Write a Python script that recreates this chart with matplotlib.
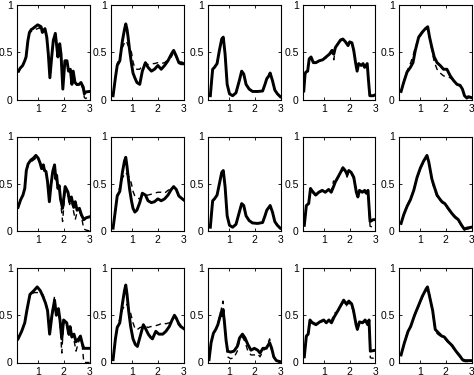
import matplotlib
matplotlib.use("Agg")
import matplotlib.pyplot as plt

plt.rcParams["font.family"] = ["Liberation Sans", "DejaVu Sans"]
plt.rcParams["font.size"] = 7.5

# ---- column 1 ----
x11 = [0.26, 0.32, 0.42, 0.5, 0.55, 0.62, 0.68, 0.75, 0.81, 0.9, 1.0, 1.07, 1.13, 1.18, 1.22, 1.28, 1.35, 1.41,
       1.47, 1.54, 1.6, 1.68, 1.74, 1.78, 1.85, 1.9, 1.97, 2.05, 2.13, 2.19, 2.26, 2.32, 2.37, 2.44, 2.51, 2.6,
       2.67, 2.76, 2.8, 2.86, 3.0]
s11 = [0.30, 0.33, 0.36, 0.41, 0.45, 0.62, 0.71, 0.74, 0.75, 0.77, 0.79, 0.78, 0.77, 0.71, 0.73, 0.75, 0.66, 0.48,
       0.23, 0.45, 0.62, 0.70, 0.55, 0.45, 0.59, 0.48, 0.11, 0.41, 0.41, 0.30, 0.32, 0.16, 0.30, 0.18, 0.16, 0.16,
       0.18, 0.13, 0.06, 0.08, 0.085]
d11 = [0.29, 0.33, 0.36, 0.41, 0.46, 0.63, 0.70, 0.72, 0.73, 0.74, 0.75, 0.76, 0.72, 0.73, 0.74, 0.72, 0.64, 0.50,
       0.27, 0.47, 0.64, 0.67, 0.56, 0.47, 0.56, 0.46, 0.13, 0.39, 0.40, 0.31, 0.30, 0.17, 0.28, 0.19, 0.15, 0.15,
       0.16, 0.10, 0.02, 0.01, 0.05]

x21 = [0.24, 0.34, 0.43, 0.5, 0.56, 0.63, 0.73, 0.83, 0.93, 1.02, 1.09, 1.15, 1.22, 1.26, 1.32, 1.38, 1.45, 1.51,
       1.58, 1.65, 1.7, 1.73, 1.78, 1.83, 1.88, 1.96, 2.06, 2.17, 2.23, 2.3, 2.39, 2.45, 2.52, 2.61, 2.69, 2.78,
       2.87, 3.0]
s21 = [0.25, 0.33, 0.38, 0.45, 0.64, 0.71, 0.75, 0.77, 0.80, 0.77, 0.72, 0.66, 0.70, 0.64, 0.63, 0.52, 0.31, 0.48,
       0.63, 0.70, 0.55, 0.59, 0.45, 0.48, 0.34, 0.24, 0.47, 0.41, 0.31, 0.36, 0.25, 0.31, 0.22, 0.24, 0.17, 0.12,
       0.14, 0.15]
d21 = [0.25, 0.33, 0.38, 0.46, 0.63, 0.70, 0.73, 0.75, 0.77, 0.76, 0.73, 0.68, 0.68, 0.66, 0.62, 0.53, 0.33, 0.50,
       0.62, 0.66, 0.56, 0.57, 0.46, 0.45, 0.33, 0.10, 0.44, 0.40, 0.28, 0.33, 0.20, 0.12, 0.20, 0.21, 0.15, 0.02,
       0.01, 0.0]

x31 = [0.24, 0.38, 0.5, 0.58, 0.7, 0.85, 0.98, 1.1, 1.2, 1.3, 1.38, 1.46, 1.55, 1.65, 1.72, 1.8, 1.86, 1.93, 2.0,
       2.12, 2.2, 2.25, 2.32, 2.4, 2.48, 2.58, 2.65, 2.72, 2.78, 3.0]
s31 = [0.25, 0.33, 0.42, 0.55, 0.72, 0.76, 0.80, 0.76, 0.70, 0.63, 0.55, 0.30, 0.50, 0.66, 0.50, 0.57, 0.45, 0.25,
       0.45, 0.42, 0.30, 0.38, 0.27, 0.30, 0.22, 0.25, 0.28, 0.20, 0.15, 0.15]
d31 = [0.25, 0.33, 0.43, 0.56, 0.71, 0.74, 0.74, 0.73, 0.72, 0.64, 0.56, 0.33, 0.52, 0.70, 0.52, 0.55, 0.42, 0.10,
       0.43, 0.40, 0.28, 0.35, 0.25, 0.24, 0.12, 0.22, 0.25, 0.18, 0.0, 0.0]

# ---- column 2 ----
x12 = [0.28, 0.37, 0.44, 0.54, 0.64, 0.72, 0.77, 0.82, 0.86, 0.92, 0.99, 1.05, 1.12, 1.2, 1.31, 1.41, 1.53, 1.63,
       1.76, 1.88, 2.01, 2.14, 2.27, 2.4, 2.53, 2.62, 2.72, 2.82, 2.91, 3.0]
s12 = [0.04, 0.23, 0.36, 0.41, 0.62, 0.74, 0.80, 0.74, 0.66, 0.52, 0.38, 0.28, 0.23, 0.18, 0.16, 0.30, 0.39, 0.34,
       0.30, 0.32, 0.36, 0.32, 0.36, 0.41, 0.48, 0.52, 0.46, 0.39, 0.39, 0.38]
d12 = [0.04, 0.22, 0.38, 0.45, 0.55, 0.60, 0.62, 0.60, 0.57, 0.55, 0.50, 0.40, 0.33, 0.32, 0.32, 0.36, 0.38, 0.37,
       0.38, 0.38, 0.39, 0.38, 0.39, 0.42, 0.45, 0.50, 0.45, 0.38, 0.37, 0.37]

x22 = x12
s22 = [0.03, 0.22, 0.37, 0.42, 0.62, 0.74, 0.78, 0.68, 0.58, 0.44, 0.32, 0.24, 0.20, 0.22, 0.30, 0.40, 0.38, 0.32,
       0.30, 0.31, 0.34, 0.32, 0.34, 0.38, 0.44, 0.47, 0.44, 0.37, 0.35, 0.33]
d22 = [0.03, 0.21, 0.38, 0.46, 0.56, 0.60, 0.62, 0.60, 0.59, 0.56, 0.50, 0.42, 0.37, 0.35, 0.34, 0.37, 0.38, 0.38,
       0.39, 0.40, 0.41, 0.41, 0.40, 0.43, 0.45, 0.47, 0.44, 0.37, 0.35, 0.34]

x32 = [0.28, 0.37, 0.44, 0.54, 0.64, 0.72, 0.77, 0.82, 0.88, 0.96, 1.05, 1.14, 1.22, 1.32, 1.45, 1.55, 1.64, 1.72,
       1.8, 1.93, 2.05, 2.2, 2.32, 2.45, 2.56, 2.65, 2.72, 2.8, 2.9, 3.0]
s32 = [0.03, 0.25, 0.37, 0.42, 0.62, 0.76, 0.82, 0.72, 0.55, 0.38, 0.25, 0.19, 0.17, 0.27, 0.40, 0.35, 0.30, 0.27,
       0.25, 0.33, 0.30, 0.30, 0.33, 0.38, 0.45, 0.50, 0.47, 0.42, 0.38, 0.36]
d32 = [0.03, 0.24, 0.38, 0.46, 0.56, 0.60, 0.62, 0.61, 0.58, 0.52, 0.42, 0.35, 0.35, 0.37, 0.38, 0.38, 0.37, 0.38,
       0.38, 0.39, 0.40, 0.42, 0.41, 0.42, 0.45, 0.48, 0.46, 0.40, 0.37, 0.35]

# ---- column 3 ----
x13 = [0.29, 0.34, 0.38, 0.45, 0.55, 0.64, 0.73, 0.79, 0.86, 0.94, 1.03, 1.15, 1.28, 1.41, 1.5, 1.58, 1.67, 1.79,
       1.92, 2.12, 2.31, 2.4, 2.47, 2.55, 2.6, 2.69, 2.78, 2.88, 2.99]
s13 = [0.04, 0.20, 0.32, 0.34, 0.38, 0.52, 0.64, 0.66, 0.48, 0.16, 0.06, 0.04, 0.07, 0.20, 0.30, 0.27, 0.16, 0.11,
       0.085, 0.085, 0.09, 0.16, 0.22, 0.25, 0.28, 0.20, 0.10, 0.06, 0.03]
d13 = [0.04, 0.20, 0.32, 0.34, 0.38, 0.52, 0.63, 0.65, 0.48, 0.17, 0.06, 0.04, 0.07, 0.20, 0.30, 0.27, 0.16, 0.11,
       0.085, 0.085, 0.09, 0.16, 0.22, 0.25, 0.27, 0.20, 0.10, 0.06, 0.03]

x23 = x13
s23 = [0.04, 0.20, 0.32, 0.34, 0.38, 0.50, 0.62, 0.64, 0.47, 0.16, 0.06, 0.04, 0.07, 0.20, 0.29, 0.27, 0.16, 0.11,
       0.085, 0.08, 0.09, 0.16, 0.22, 0.25, 0.27, 0.20, 0.10, 0.06, 0.03]
d23 = [0.04, 0.20, 0.32, 0.34, 0.38, 0.50, 0.62, 0.64, 0.47, 0.16, 0.06, 0.04, 0.07, 0.20, 0.29, 0.27, 0.16, 0.11,
       0.085, 0.08, 0.09, 0.16, 0.22, 0.25, 0.27, 0.20, 0.10, 0.06, 0.03]

x33 = [0.24, 0.32, 0.41, 0.5, 0.58, 0.66, 0.71, 0.75, 0.78, 0.83, 0.9, 0.96, 1.07, 1.2, 1.33, 1.42, 1.53, 1.63,
       1.74, 1.86, 1.99, 2.12, 2.21, 2.32, 2.45, 2.58, 2.66, 2.74, 2.84, 2.97]
s33 = [0.03, 0.21, 0.31, 0.35, 0.40, 0.48, 0.53, 0.50, 0.56, 0.44, 0.23, 0.12, 0.11, 0.12, 0.17, 0.26, 0.30, 0.26,
       0.19, 0.13, 0.15, 0.13, 0.10, 0.15, 0.15, 0.21, 0.15, 0.06, 0.02, 0.01]
d33 = [0.03, 0.20, 0.32, 0.35, 0.41, 0.50, 0.56, 0.62, 0.65, 0.45, 0.20, 0.06, 0.04, 0.05, 0.12, 0.24, 0.27, 0.22,
       0.12, 0.08, 0.08, 0.09, 0.06, 0.12, 0.16, 0.25, 0.12, 0.05, 0.02, 0.0]

# ---- column 4 ----
x14 = [0.23, 0.28, 0.31, 0.38, 0.44, 0.51, 0.6, 0.7, 0.83, 0.96, 1.09, 1.22, 1.32, 1.39, 1.45, 1.55, 1.65, 1.74,
       1.84, 1.94, 2.0, 2.09, 2.16, 2.23, 2.29, 2.35, 2.45, 2.52, 2.58, 2.68, 2.73, 2.78, 2.91, 3.0]
s14 = [0.09, 0.27, 0.29, 0.30, 0.43, 0.45, 0.39, 0.39, 0.41, 0.42, 0.45, 0.48, 0.52, 0.48, 0.55, 0.59, 0.63, 0.64,
       0.61, 0.57, 0.61, 0.60, 0.52, 0.39, 0.30, 0.38, 0.36, 0.38, 0.34, 0.38, 0.20, 0.04, 0.04, 0.05]
d14 = [0.09, 0.26, 0.29, 0.31, 0.42, 0.44, 0.40, 0.39, 0.40, 0.42, 0.44, 0.48, 0.50, 0.42, 0.54, 0.59, 0.62, 0.63,
       0.61, 0.58, 0.60, 0.59, 0.50, 0.40, 0.32, 0.37, 0.36, 0.37, 0.35, 0.37, 0.18, 0.04, 0.04, 0.05]

x24 = [0.25, 0.33, 0.42, 0.49, 0.59, 0.69, 0.81, 0.94, 1.06, 1.19, 1.29, 1.38, 1.45, 1.55, 1.65, 1.74, 1.83, 1.9,
       1.97, 2.06, 2.16, 2.26, 2.32, 2.38, 2.49, 2.58, 2.64, 2.71, 2.75, 2.79, 2.91, 3.0]
s24 = [0.06, 0.27, 0.29, 0.45, 0.41, 0.38, 0.41, 0.43, 0.41, 0.44, 0.41, 0.47, 0.52, 0.57, 0.62, 0.67, 0.64, 0.60,
       0.64, 0.62, 0.57, 0.41, 0.36, 0.43, 0.41, 0.43, 0.40, 0.43, 0.26, 0.10, 0.12, 0.12]
d24 = [0.06, 0.26, 0.30, 0.44, 0.42, 0.39, 0.41, 0.42, 0.42, 0.43, 0.42, 0.53, 0.50, 0.56, 0.61, 0.65, 0.63, 0.57,
       0.62, 0.61, 0.55, 0.43, 0.37, 0.42, 0.42, 0.41, 0.42, 0.40, 0.22, 0.05, 0.04, 0.04]

x34 = [0.25, 0.33, 0.4, 0.47, 0.56, 0.7, 0.85, 1.0, 1.1, 1.2, 1.3, 1.4, 1.55, 1.65, 1.77, 1.87, 1.97, 2.08, 2.15,
       2.25, 2.3, 2.38, 2.5, 2.6, 2.7, 2.75, 2.8, 3.0]
s34 = [0.06, 0.28, 0.30, 0.45, 0.42, 0.40, 0.43, 0.45, 0.42, 0.45, 0.42, 0.48, 0.55, 0.60, 0.66, 0.62, 0.65, 0.62,
       0.55, 0.40, 0.35, 0.43, 0.42, 0.45, 0.40, 0.45, 0.12, 0.13]
d34 = [0.06, 0.27, 0.31, 0.44, 0.43, 0.41, 0.42, 0.44, 0.43, 0.44, 0.44, 0.52, 0.54, 0.59, 0.64, 0.60, 0.63, 0.60,
       0.53, 0.42, 0.37, 0.41, 0.43, 0.43, 0.42, 0.42, 0.05, 0.04]

# ---- column 5 ----
x15 = [0.28, 0.38, 0.51, 0.64, 0.74, 0.83, 0.96, 1.09, 1.22, 1.31, 1.38, 1.47, 1.56, 1.67, 1.79, 1.92, 2.05, 2.18,
       2.31, 2.44, 2.56, 2.65, 2.73, 2.82, 2.88, 3.0]
s15 = [0.085, 0.18, 0.29, 0.34, 0.39, 0.52, 0.66, 0.71, 0.75, 0.77, 0.66, 0.55, 0.45, 0.39, 0.36, 0.32, 0.32, 0.25,
       0.20, 0.16, 0.15, 0.11, 0.04, 0.015, 0.03, 0.02]
d15 = [0.08, 0.19, 0.30, 0.38, 0.46, 0.55, 0.64, 0.70, 0.73, 0.75, 0.66, 0.52, 0.40, 0.32, 0.28, 0.25, 0.24, 0.23,
       0.20, 0.16, 0.14, 0.10, 0.04, 0.01, 0.02, 0.02]

x25 = [0.28, 0.38, 0.51, 0.64, 0.77, 0.9, 1.03, 1.15, 1.28, 1.35, 1.41, 1.47, 1.56, 1.67, 1.77, 1.86, 1.97, 2.1,
       2.23, 2.36, 2.49, 2.62, 2.72, 2.81, 3.0]
s25 = [0.08, 0.17, 0.26, 0.33, 0.43, 0.57, 0.67, 0.74, 0.80, 0.73, 0.64, 0.55, 0.47, 0.38, 0.34, 0.31, 0.29, 0.24,
       0.19, 0.15, 0.12, 0.06, 0.02, 0.03, 0.04]
d25 = [0.08, 0.18, 0.27, 0.34, 0.44, 0.56, 0.66, 0.73, 0.78, 0.74, 0.63, 0.53, 0.45, 0.36, 0.33, 0.30, 0.28, 0.23,
       0.18, 0.14, 0.11, 0.05, 0.01, 0.02, 0.03]

x35 = [0.28, 0.4, 0.55, 0.65, 0.8, 0.95, 1.1, 1.25, 1.3, 1.38, 1.5, 1.6, 1.7, 1.85, 1.95, 2.1, 2.25, 2.4, 2.55,
       2.65, 2.75, 3.0]
s35 = [0.08, 0.20, 0.33, 0.38, 0.50, 0.60, 0.70, 0.78, 0.80, 0.70, 0.55, 0.35, 0.32, 0.28, 0.27, 0.22, 0.18, 0.12,
       0.07, 0.03, 0.02, 0.02]
d35 = [0.08, 0.21, 0.34, 0.39, 0.49, 0.59, 0.69, 0.76, 0.78, 0.72, 0.53, 0.33, 0.30, 0.27, 0.26, 0.21, 0.17, 0.11,
       0.06, 0.02, 0.01, 0.01]

x_ticks = [1, 2, 3]
y_ticks = [0, 0.5, 1]
y_ticklabels = ["0", "0.5", "1"]

panels = [
    [(x11, s11, d11), (x12, s12, d12), (x13, s13, d13), (x14, s14, d14), (x15, s15, d15)],
    [(x21, s21, d21), (x22, s22, d22), (x23, s23, d23), (x24, s24, d24), (x25, s25, d25)],
    [(x31, s31, d31), (x32, s32, d32), (x33, s33, d33), (x34, s34, d34), (x35, s35, d35)],
]

W, H = 474, 375
fig = plt.figure(figsize=(W / 100, H / 100), dpi=100)

col_left = [17, 111, 208, 303, 399]
row_top = [5, 136.5, 268]
ax_w, ax_h = 72.5, 94.5

for r, row in enumerate(panels):
    for c, (x, solid, dashed) in enumerate(row):
        ax = fig.add_axes([col_left[c] / W, 1 - (row_top[r] + ax_h) / H, ax_w / W, ax_h / H])
        ax.plot(x, dashed, color="black", linestyle="--", linewidth=1.0, dashes=(4, 3))
        ax.plot(x, solid, color="black", linewidth=2.1)
        ax.set_xlim(0.2, 3)
        ax.set_ylim(0, 1)
        ax.set_xticks(x_ticks)
        ax.set_yticks(y_ticks)
        ax.set_yticklabels(y_ticklabels)
        ax.tick_params(direction="in", length=2.5, width=0.6, top=True, right=True, pad=3, labelsize=7.5)
        for sp in ax.spines.values():
            sp.set_linewidth(0.8)

fig.savefig("out.png", dpi=100)
